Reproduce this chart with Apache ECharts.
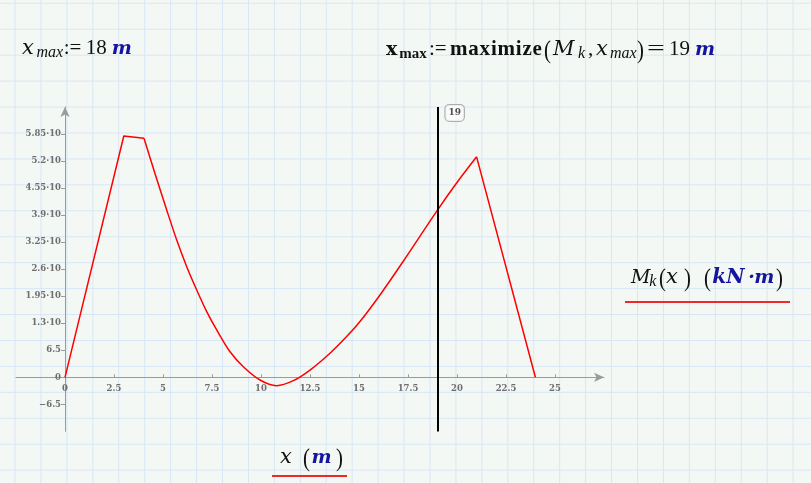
<!DOCTYPE html>
<html><head><meta charset="utf-8">
<script src="https://cdn.jsdelivr.net/npm/echarts@6/dist/echarts.min.js"></script>
<style>
html,body{margin:0;padding:0;}
body{width:811px;height:483px;overflow:hidden;background-color:#f4f8f4;
background-image:linear-gradient(to right,#d8e6f5 1px,transparent 1px),linear-gradient(to bottom,#d8e6f5 1px,transparent 1px);
background-size:25.94px 25.94px;background-position:14.5px 2.8px;position:relative;}
#chart{position:absolute;left:0;top:0;width:811px;height:483px;}
.f{position:absolute;white-space:nowrap;font-family:"Liberation Serif",serif;font-size:18px;color:#111;line-height:24px;height:24px;}
.f span{display:inline-block;line-height:24px;}
.r{font-family:"Liberation Serif",serif;font-size:21px;}
.i{font-family:"DejaVu Serif",serif;font-style:italic;font-size:21px;}
.s{font-family:"Liberation Serif",serif;font-style:italic;font-size:16px;position:relative;top:3px;}
.bs{font-family:"Liberation Serif",serif;font-weight:bold;font-size:15px;position:relative;top:3px;}
.bx{font-family:"DejaVu Serif",serif;font-weight:bold;font-size:19px;}
.bw{font-family:"Liberation Serif",serif;font-weight:bold;font-size:21px;letter-spacing:0.8px;}
.u{font-family:"DejaVu Serif",serif;font-style:italic;font-weight:bold;font-size:19px;color:#14149e;}
.p{font-family:"Liberation Serif",serif;font-size:26px;transform:scaleX(0.8);transform-origin:left;position:relative;top:3px;}
.eq{transform:scaleX(1.5);transform-origin:left;}
.ul{position:absolute;height:2px;background:#f02828;}
</style></head>
<body>
<div id="chart"></div>
<div class="f" style="left:22px;top:35px;"><span class="i" style="width:14.4px">x</span><span class="s" style="width:27.3px">max</span><span class="r" style="width:22px">:=</span><span class="r" style="width:26px">18</span><span class="u">m</span></div>
<div class="f" style="left:386px;top:35px;"><span class="bx" style="width:13.3px">x</span><span class="bs" style="width:29.7px">max</span><span class="r" style="width:21px">:=</span><span class="bw" style="width:94px">maximize</span><span class="p" style="width:9px">(</span><span class="i" style="width:25px">M</span><span class="s" style="width:10px">k</span><span class="r" style="width:8px">,</span><span class="i" style="width:14px">x</span><span class="s" style="width:26.7px">max</span><span class="p" style="width:10px">)</span><span class="r eq" style="width:22.3px">=</span><span class="r" style="width:26px">19</span><span class="u">m</span></div>
<div class="f" style="left:631px;top:263px;"><span class="i" style="width:18.3px;font-size:19px">M</span><span class="s" style="width:10px">k</span><span class="p" style="width:6.7px">(</span><span class="i" style="width:18.3px">x</span><span class="p" style="width:20px">)</span><span class="p" style="width:8px">(</span><span class="u" style="width:36px;font-size:20px">kN</span><span class="u" style="width:6px">·</span><span class="u" style="width:21.7px">m</span><span class="p">)</span></div>
<div class="ul" style="left:625px;top:301px;width:165px;"></div>
<div class="f" style="left:280px;top:443px;"><span class="i" style="width:22.5px">x</span><span class="p" style="width:9px">(</span><span class="u" style="width:24px">m</span><span class="p">)</span></div>
<div class="ul" style="left:272px;top:475px;width:75px;"></div>
<script>
// bending moment M_k(x) (x in m, M in kN·m)
const risingX = [0, 3, 4.03];
const risingY = [0, 58.0, 57.45];
const spanX = [4.03, 4.59, 5.19, 5.70, 6.21, 6.72, 7.23, 7.74, 8.42, 9.10, 9.95, 10.8, 11.65, 12.5, 13.52, 14.37, 15.05, 16.07, 17.26, 18.96, 19.98, 21.0];
const spanY = [57.45, 49.0, 40.2, 33.0, 26.6, 21.0, 15.8, 11.4, 6.15, 2.55, -0.65, -2.0, -0.8, 1.75, 5.8, 9.8, 13.4, 19.8, 27.9, 39.9, 46.7, 53.0];
const fallingX = [21.0, 24.0];
const fallingY = [53.0, 0];
const xmaxValue = 19;
const xRange = [-2.5, 27.5];
const yRange = [-13, 65];
const xTickValues = [0, 2.5, 5, 7.5, 10, 12.5, 15, 17.5, 20, 22.5, 25];
const xTickLabels = ['0', '2.5', '5', '7.5', '10', '12.5', '15', '17.5', '20', '22.5', '25'];
const yTickValues = [-6.5, 0, 6.5, 13, 19.5, 26, 32.5, 39, 45.5, 52, 58.5];
const yTickLabels = ['\u22126.5', '0', '6.5', '1.3\u00b710', '1.95\u00b710', '2.6\u00b710', '3.25\u00b710', '3.9\u00b710', '4.55\u00b710', '5.2\u00b710', '5.85\u00b710'];

const zip = (a, b) => a.map((v, i) => [v, b[i]]);
const lookup = (vals, labs) => v => {
  for (let i = 0; i < vals.length; i++) if (Math.abs(vals[i] - v) < 1e-6) return labs[i];
  return '';
};
const W = 811, H = 483;
const G = {left: 16, right: 207, top: 106.9, bottom: 51.6};
const gw = W - G.left - G.right, gh = H - G.top - G.bottom;
// place both axes through the origin
const yAxisOffset = -(0 - xRange[0]) / (xRange[1] - xRange[0]) * gw;
const xAxisOffset = -(0 - yRange[0]) / (yRange[1] - yRange[0]) * gh;

const labelStyle = {color: '#6e6e6e', fontFamily: 'DejaVu Serif', fontWeight: 'bold', fontSize: 8.5};
const curveStyle = {color: '#ff0000', width: 1.5};
const axisColor = '#9a9a9a';

const chart = echarts.init(document.getElementById('chart'), null, {renderer: 'canvas'});
chart.setOption({
  backgroundColor: 'transparent',
  animation: false,
  grid: Object.assign({outerBoundsMode: 'none'}, G),
  xAxis: {
    type: 'value', min: xRange[0], max: xRange[1], interval: 2.5, position: 'bottom', offset: xAxisOffset,
    axisLine: {onZero: false, lineStyle: {color: axisColor, width: 1}, symbol: ['none', 'arrow'], symbolSize: [7, 10]},
    axisTick: {inside: true, length: 3, lineStyle: {color: axisColor}},
    axisLabel: Object.assign({margin: 7, showMinLabel: false, showMaxLabel: false, formatter: lookup(xTickValues, xTickLabels)}, labelStyle),
    splitLine: {show: false}
  },
  yAxis: {
    type: 'value', min: yRange[0], max: yRange[1], interval: 6.5, position: 'left', offset: yAxisOffset,
    axisLine: {onZero: false, lineStyle: {color: axisColor, width: 1}, symbol: ['none', 'arrow'], symbolSize: [7, 10]},
    axisTick: {inside: false, length: 4, lineStyle: {color: axisColor}},
    axisLabel: Object.assign({margin: 4, showMinLabel: false, showMaxLabel: false, formatter: lookup(yTickValues, yTickLabels)}, labelStyle),
    splitLine: {show: false}
  },
  series: [
    {type: 'line', data: zip(risingX, risingY), symbol: 'none', lineStyle: curveStyle, z: 2},
    {type: 'line', data: zip(spanX, spanY), symbol: 'none', smooth: 0.3, lineStyle: curveStyle, z: 2},
    {type: 'line', data: zip(fallingX, fallingY), symbol: 'none', lineStyle: curveStyle, z: 2,
      markLine: {silent: true, symbol: ['none', 'none'], lineStyle: {color: '#000', width: 2, type: 'solid'}, label: {show: false}, data: [{xAxis: xmaxValue}]}},
    {type: 'scatter', data: [[xmaxValue, yRange[1]]], symbolSize: 2, itemStyle: {color: 'rgba(0,0,0,0)'}, z: 5, clip: false,
      label: {show: true, position: 'right', distance: 7, offset: [0, 6], formatter: String(xmaxValue),
        backgroundColor: '#fcfcfc', borderColor: '#9a9a9a', borderWidth: 1, borderRadius: 4, padding: [4, 3, 3, 3],
        fontFamily: 'DejaVu Serif', fontWeight: 'bold', fontSize: 9, color: '#222'}}
  ]
});
</script>
</body></html>
